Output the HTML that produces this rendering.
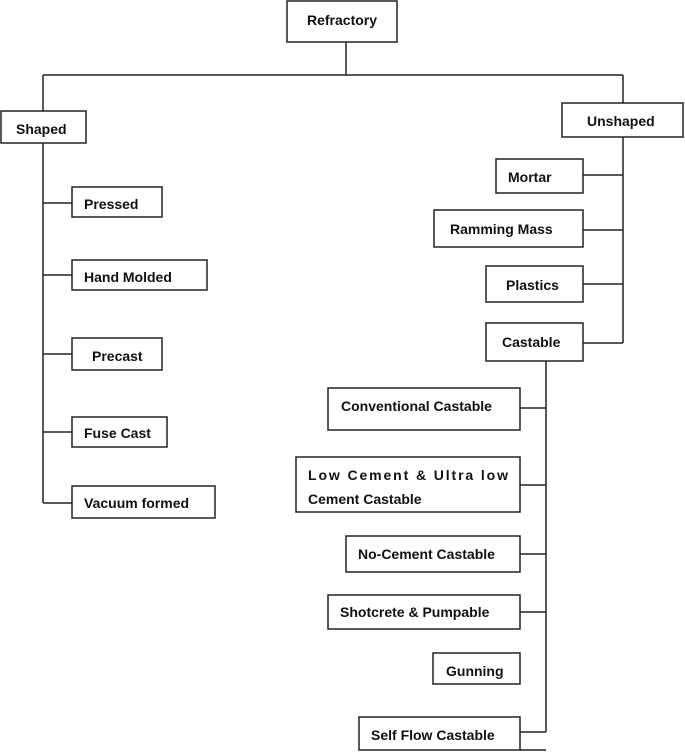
<!DOCTYPE html>
<html><head><meta charset="utf-8"><style>
body{margin:0;background:#fff;}
svg{display:block}
text{font-family:"Liberation Sans",sans-serif;font-weight:bold;font-size:14px;fill:#111;}
rect{fill:#fff;stroke:#222;stroke-width:1.5}
line{stroke:#222;stroke-width:1.5}
</style></head><body>
<svg width="685" height="752" xmlns="http://www.w3.org/2000/svg">
<line x1="346" y1="42" x2="346" y2="75"/>
<line x1="43" y1="75" x2="623" y2="75"/>
<line x1="43" y1="75" x2="43" y2="111"/>
<line x1="623" y1="75" x2="623" y2="103"/>
<line x1="43" y1="143" x2="43" y2="503"/>
<line x1="43" y1="203" x2="72" y2="203"/>
<line x1="43" y1="275" x2="72" y2="275"/>
<line x1="43" y1="354" x2="72" y2="354"/>
<line x1="43" y1="432" x2="72" y2="432"/>
<line x1="43" y1="503" x2="72" y2="503"/>
<line x1="623" y1="137" x2="623" y2="343"/>
<line x1="583" y1="175" x2="623" y2="175"/>
<line x1="583" y1="230" x2="623" y2="230"/>
<line x1="583" y1="284" x2="623" y2="284"/>
<line x1="583" y1="343" x2="623" y2="343"/>
<line x1="546" y1="361" x2="546" y2="732"/>
<line x1="520" y1="408" x2="546" y2="408"/>
<line x1="520" y1="485" x2="546" y2="485"/>
<line x1="520" y1="554" x2="546" y2="554"/>
<line x1="520" y1="612" x2="546" y2="612"/>
<line x1="520" y1="732" x2="546" y2="732"/>
<line x1="520" y1="750" x2="546" y2="750"/>
<rect x="287" y="1" width="110" height="41"/><text x="307" y="25">Refractory</text>
<rect x="1" y="111" width="85" height="32"/><text x="16" y="134">Shaped</text>
<rect x="72" y="187" width="90" height="30"/><text x="84" y="209">Pressed</text>
<rect x="72" y="260" width="135" height="30"/><text x="84" y="282">Hand Molded</text>
<rect x="72" y="338" width="90" height="32"/><text x="92" y="361">Precast</text>
<rect x="72" y="417" width="95" height="30"/><text x="84" y="438">Fuse Cast</text>
<rect x="72" y="486" width="143" height="32"/><text x="84" y="508">Vacuum formed</text>
<rect x="562" y="103" width="121" height="34"/><text x="587" y="126">Unshaped</text>
<rect x="496" y="159" width="87" height="34"/><text x="508" y="182">Mortar</text>
<rect x="434" y="210" width="149" height="37"/><text x="450" y="234">Ramming Mass</text>
<rect x="486" y="266" width="97" height="36"/><text x="506" y="290">Plastics</text>
<rect x="486" y="323" width="97" height="38"/><text x="502" y="347">Castable</text>
<rect x="328" y="388" width="192" height="42"/><text x="341" y="411">Conventional Castable</text>
<rect x="296" y="457" width="224" height="55"/><text x="308" y="480" textLength="200">Low Cement &amp; Ultra low</text><text x="308" y="504">Cement Castable</text>
<rect x="346" y="536" width="174" height="36"/><text x="358" y="559">No-Cement Castable</text>
<rect x="328" y="595" width="192" height="34"/><text x="340" y="617">Shotcrete &amp; Pumpable</text>
<rect x="433" y="653" width="87" height="31"/><text x="446" y="676">Gunning</text>
<rect x="359" y="717" width="161" height="33"/><text x="371" y="740">Self Flow Castable</text>
</svg>
</body></html>
